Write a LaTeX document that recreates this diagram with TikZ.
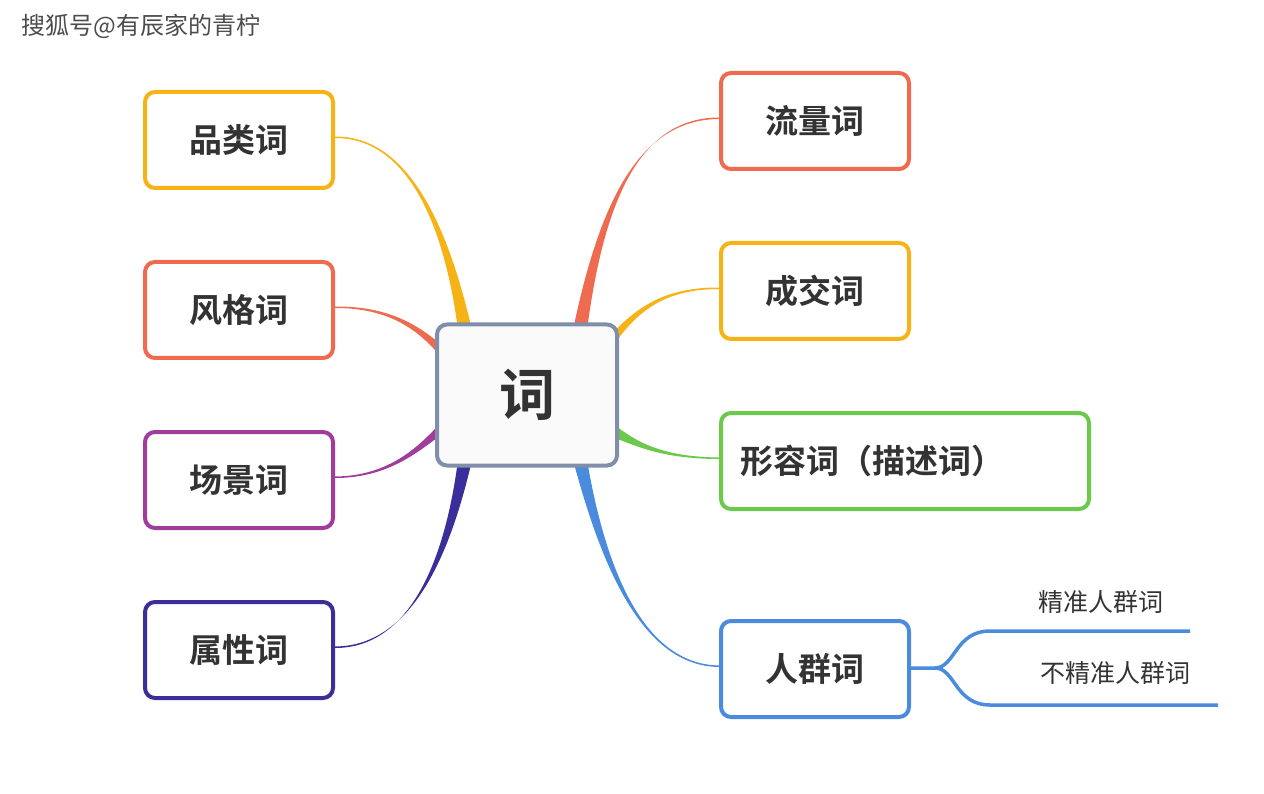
\documentclass[tikz,border=0pt]{standalone}
\usepackage{fontspec}
\newfontfamily\cjk{Noto Sans CJK SC}
\newfontfamily\cjkb{Noto Sans CJK SC Bold}
\definecolor{cy}{HTML}{F5B316}
\definecolor{cr}{HTML}{EE6B50}
\definecolor{cp}{HTML}{A03C9B}
\definecolor{cd}{HTML}{3A2E9A}
\definecolor{cg}{HTML}{6CC94B}
\definecolor{cb}{HTML}{4A8BDD}
\definecolor{cc}{HTML}{7F8FAA}
\begin{document}
\begin{tikzpicture}[x=1pt,y=-1pt,
 box/.style={draw=#1,line width=4pt,rounded corners=10pt,fill=white,inner sep=0pt,
   font=\cjkb\fontsize{33}{36}\selectfont,text=black!80},
 sub/.style={font=\cjk\fontsize{25}{28}\selectfont,text=black!80}]
\useasboundingbox (0,0) rectangle (1264,794);
% tapered branches: color, start, c1, c2, end, shift key
\newcommand\branch[6]{%
 \fill[#1] (#2) .. controls (#3) and (#4) .. ([#6=-7pt]#5) -- ([#6=7pt]#5) .. controls ([#6=4pt]#4) and ([yshift=2pt]#3) .. ([yshift=1.5pt]#2) -- cycle;}
\branch{cy}{335,138}{410,138}{445,230}{465,330}{xshift}
\branch{cr}{335,308}{390,308}{420,330}{445,355}{yshift}
\branch{cp}{335,478}{390,478}{420,450}{445,425}{yshift}
\branch{cd}{335,648}{410,648}{445,560}{465,460}{xshift}
\branch{cr}{720,119}{640,119}{600,200}{580,330}{xshift}
\branch{cy}{720,289}{660,289}{635,315}{612,340}{yshift}
\branch{cg}{720,459}{660,459}{635,445}{612,430}{yshift}
\branch{cb}{720,667}{640,667}{600,560}{580,460}{xshift}
% sub branches
\coordinate (s0) at (935,668);
\coordinate (s1) at (1190,631);
\coordinate (s2) at (1218,705);
\draw[cb,line width=3.5pt] (911,668) -- (s0) .. controls (955,668) and (955,631) .. (990,631) -- (s1);
\draw[cb,line width=3.5pt] (s0) .. controls (955,668) and (955,705) .. (990,705) -- (s2);
\node[sub] (q1) at (1101,602) {精准人群词};
\node[sub] (q2) at (1115,673) {不精准人群词};
% boxes
\node[box=cy,minimum width=188pt,minimum height=96pt] (a) at (239,140) {品类词};
\node[box=cr,minimum width=188pt,minimum height=96pt] (b) at (239,310) {风格词};
\node[box=cp,minimum width=188pt,minimum height=96pt] (c) at (239,480) {场景词};
\node[box=cd,minimum width=188pt,minimum height=96pt] (d) at (239,650) {属性词};
\node[box=cr,minimum width=188pt,minimum height=96pt] (e) at (815,121) {流量词};
\node[box=cy,minimum width=188pt,minimum height=96pt] (f) at (815,291) {成交词};
\node[box=cg,minimum width=368pt,minimum height=96pt,text width=330pt,align=left] (g) at (905,461) {形容词（描述词）};
\node[box=cb,minimum width=188pt,minimum height=96pt] (h) at (815,669) {人群词};
\node[box=cc,fill=gray!4,minimum width=180pt,minimum height=141pt,font=\cjkb\fontsize{56}{60}\selectfont] (m) at (527,395) {词};
\node[font=\cjk\fontsize{24}{28}\selectfont,text=black!70,anchor=west] (w) at (18,26) {搜狐号@有辰家的青柠};
\end{tikzpicture}
\end{document}
